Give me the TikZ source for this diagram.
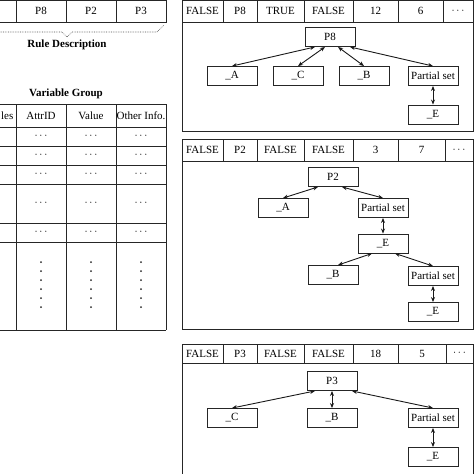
\documentclass[tikz,border=0pt]{standalone}
\usepackage{fontspec}
\setmainfont{Liberation Serif}
\usetikzlibrary{arrows.meta}

\begin{document}
\begin{tikzpicture}[x=1pt, y=-1pt,
    font=\fontsize{11}{13}\selectfont,
    frame/.style={draw=black!85, line width=0.9pt},
    box/.style={rectangle, draw=black!85, line width=0.9pt, fill=white,
        minimum width=50pt, minimum height=19pt, inner sep=0pt},
    cell/.style={rectangle, draw=black!85, line width=0.9pt,
        minimum height=22pt, inner sep=0pt},
    link/.style={line width=0.9pt, draw=black!90,
        {Stealth[length=5pt,width=4pt]}-{Stealth[length=5pt,width=4pt]}}
]
    \useasboundingbox (0,0) rectangle (474,474);
    \clip (0,0) rectangle (474,474);

    % rule description (top left)
    \foreach \x/\t [count=\i] in {-9/{}, 41/P8, 91/P2, 141/P3}
        \node[cell, minimum width=50pt] (rule\i) at (\x,11) {\t};
    \draw[densely dotted, black!70, line width=0.7pt]
        (-2,32) -- (62,32) -- (67,37) -- (72,32) -- (157,32) -- (164,25);
    \node[font=\fontsize{11}{13}\selectfont\bfseries] (ruledesc) at (67,45) {Rule Description};

    % variable group (left)
    \node[font=\fontsize{11}{13}\selectfont\bfseries] (vargroup) at (66,94) {Variable Group};
    \foreach \y in {104,127,146,165,184,223,242,330}
        \draw[frame] (-5,\y) -- (166,\y);
    \foreach \x in {16,66,116,166}
        \draw[frame] (\x,104) -- (\x,330);
    \node[anchor=east, inner sep=0pt] (varcol) at (13.5,115.5) {les};
    \node (attrid) at (41,115.5) {AttrID};
    \node (value) at (91,115.5) {Value};
    \node (other) at (141,115.5) {Other Info.};
    \foreach \y [count=\j] in {136.5,155.5,174.5,203.5,232.5}
        \foreach \x [count=\i] in {41,91,141}
            \node (dots\j-\i) at (\x,\y) {$\cdots$};
    \foreach \x in {41,91,141}
        \foreach \k in {0,...,5}
            \fill[black!85] (\x,262+9*\k) circle (1pt);

    % rule P8
    \draw[frame] (182,0) rectangle (473,131);
    \foreach \x/\w/\t [count=\i] in {202.5/41/FALSE, 240/34/P8, 280.5/47/TRUE,
            328.5/49/FALSE, 375.5/45/12, 420.5/45/6, 458/30/{$\cdots$}}
        \node[cell, minimum width=\w pt] (heada\i) at (\x,11) {\t};
    \node[box] (p8) at (330,37) {P8};
    \node[box] (a1) at (232,76) {\_A};
    \node[box] (c1) at (298,76) {\_C};
    \node[box] (b1) at (364,76) {\_B};
    \node[box] (ps1) at (433,76) {Partial set};
    \node[box] (e1) at (433,114.5) {\_E};
    \draw[link] ([xshift=-15pt]p8.south) -- (a1.north);
    \draw[link] ([xshift=-5pt]p8.south) -- (c1.north);
    \draw[link] ([xshift=8pt]p8.south) -- (b1.north);
    \draw[link] ([xshift=20pt]p8.south) -- (ps1.north);
    \draw[link] (ps1) -- (e1);

    % rule P2
    \draw[frame] (182,139) rectangle (473,329);
    \foreach \x/\w/\t [count=\i] in {202.5/41/FALSE, 240/34/P2, 280.5/47/FALSE,
            328.5/49/FALSE, 375.5/45/3, 421.5/47/7, 459/28/{$\cdots$}}
        \node[cell, minimum width=\w pt] (headb\i) at (\x,150) {\t};
    \node[box] (p2) at (333,177) {P2};
    \node[box] (a2) at (283,208) {\_A};
    \node[box] (ps2) at (383,208) {Partial set};
    \node[box] (e2) at (383,243.5) {\_E};
    \node[box] (b2) at (333,275) {\_B};
    \node[box] (ps3) at (433,276) {Partial set};
    \node[box] (e3) at (433,312) {\_E};
    \draw[link] ([xshift=-15pt]p2.south) -- (a2.north);
    \draw[link] ([xshift=9pt]p2.south) -- (ps2.north);
    \draw[link] (ps2) -- (e2);
    \draw[link] ([xshift=-11pt]e2.south) -- ([xshift=5pt]b2.north);
    \draw[link] ([xshift=12pt]e2.south) -- (ps3.north);
    \draw[link] (ps3) -- (e3);

    % rule P3
    \draw[frame] (182,344) rectangle (473,480);
    \foreach \x/\w/\t [count=\i] in {202.5/41/FALSE, 240/34/P3, 280.5/47/FALSE,
            328.5/49/FALSE, 375.5/45/18, 422/48/5, 459.5/27/{$\cdots$}}
        \node[cell, minimum width=\w pt, minimum height=19pt] (headc\i) at (\x,353.5) {\t};
    \node[box] (p3) at (332,381) {P3};
    \node[box] (c3) at (232,418) {\_C};
    \node[box] (b3) at (332,418) {\_B};
    \node[box] (ps4) at (433,418) {Partial set};
    \node[box] (e4) at (433,457) {\_E};
    \draw[link] ([xshift=-17pt]p3.south) -- (c3.north);
    \draw[link] (p3) -- (b3);
    \draw[link] ([xshift=20pt]p3.south) -- (ps4.north);
    \draw[link] (ps4) -- (e4);
\end{tikzpicture}
\end{document}
